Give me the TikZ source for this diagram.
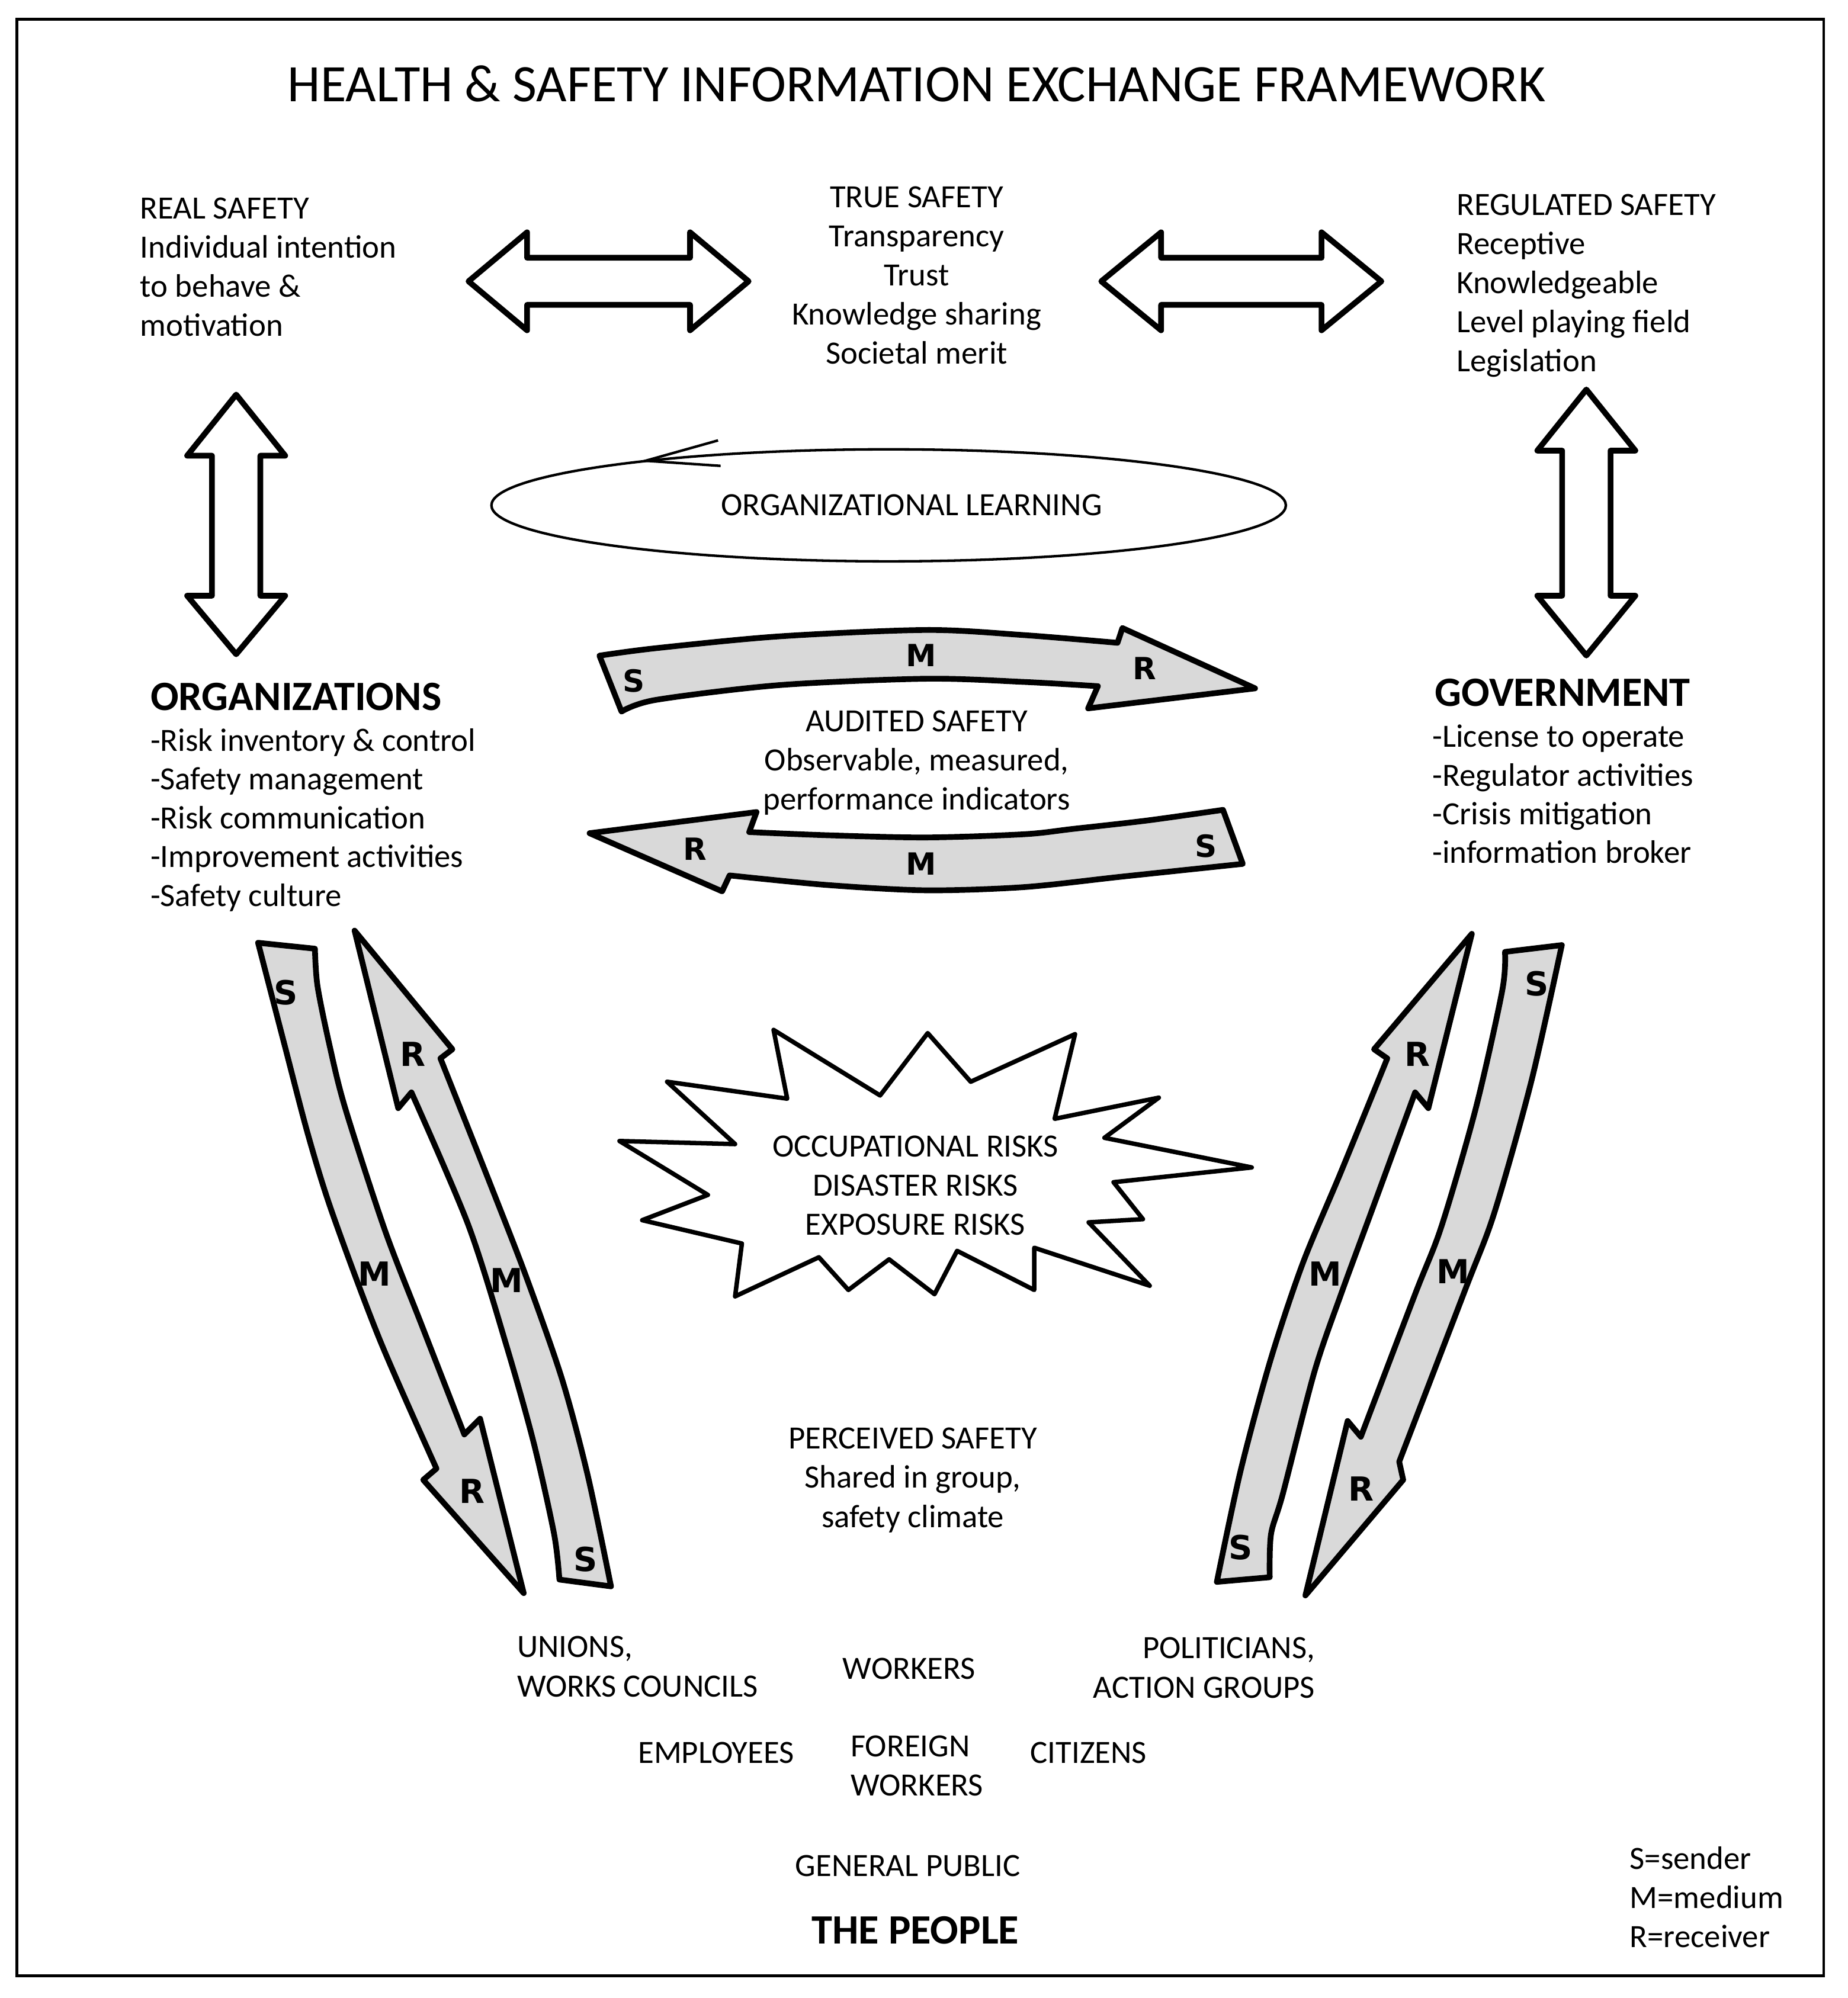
\documentclass[tikz,border=0pt]{standalone}
\usepackage{fontspec}
\setmainfont{Carlito}
\newfontfamily\labfont{DejaVu Sans}
\usetikzlibrary{shapes.geometric}
\definecolor{flowgray}{HTML}{D9D9D9}
\tikzset{
  bodytxt/.style={font=\fontsize{25.5}{30}\selectfont, inner sep=0pt},
  headtxt/.style={font=\fontsize{32.8}{36}\selectfont\bfseries, inner sep=0pt},
  titletxt/.style={font=\fontsize{41.4}{44}\selectfont, inner sep=0pt},
  letterh/.style={font=\labfont\bfseries\fontsize{24}{24}\selectfont, inner sep=0pt},
  letterv/.style={font=\labfont\bfseries\fontsize{26}{26}\selectfont, inner sep=0pt},
  flow/.style={draw, line width=4.5pt, fill=flowgray, line join=round},
  dblarrow/.style={draw, line width=4.5pt, fill=white, line join=round},
  burst/.style={draw, line width=3.5pt, fill=white, line join=round},
}
\begin{document}
\begin{tikzpicture}[x=1pt, y=-1pt]
\useasboundingbox (0,0) rectangle (1451.5,1569.7);
\draw[line width=2.2pt] (13.1,15.1) rectangle (1432.4,1552.3);

% title
\node[titletxt, anchor=base] (title) at (720,80) {HEALTH \& SAFETY INFORMATION EXCHANGE FRAMEWORK};

% top text blocks
\foreach \t [count=\i] in {REAL SAFETY, Individual intention, to behave \&, motivation}
  \node[bodytxt, anchor=base west] (real\i) at (110,{172+(\i-1)*30.7}) {\t};
\foreach \t [count=\i] in {TRUE SAFETY, Transparency, Trust, Knowledge sharing, Societal merit}
  \node[bodytxt, anchor=base] (true\i) at (720,{163+(\i-1)*30.7}) {\t};
\foreach \t [count=\i] in {REGULATED SAFETY, Receptive, Knowledgeable, Level playing field, Legislation}
  \node[bodytxt, anchor=base west] (reg\i) at (1144,{169+(\i-1)*30.7}) {\t};

% white block arrows
\draw[dblarrow] (368,221) -- (414,182.5) -- (414,202.5) -- (542,202.5) -- (542,182.5) -- (588,221)
  -- (542,259.5) -- (542,239.5) -- (414,239.5) -- (414,259.5) -- cycle;
\draw[dblarrow] (865,221) -- (912,182.5) -- (912,202.5) -- (1038,202.5) -- (1038,182.5) -- (1085,221)
  -- (1038,259.5) -- (1038,239.5) -- (912,239.5) -- (912,259.5) -- cycle;
\draw[dblarrow] (185.5,310) -- (224,358) -- (204.5,358) -- (204.5,468) -- (224,468) -- (185.5,514)
  -- (147,468) -- (166.5,468) -- (166.5,358) -- (147,358) -- cycle;
\draw[dblarrow] (1246,306) -- (1284.5,354) -- (1265,354) -- (1265,468) -- (1284.5,468) -- (1246,515)
  -- (1207.5,468) -- (1227,468) -- (1227,354) -- (1207.5,354) -- cycle;

% organizational learning loop
\node[draw, ellipse, line width=2pt, minimum width=624pt, minimum height=88pt, inner sep=0pt] (loop) at (698,397) {};
\draw[line width=2pt] (564,346) -- (507,362) -- (566,366);
\node[bodytxt, anchor=base] (learn) at (716,405) {ORGANIZATIONAL LEARNING};

% organizations / government
\node[headtxt, anchor=base west] (org) at (118,558) {ORGANIZATIONS};
\foreach \t [count=\i] in {-Risk inventory \& control, -Safety management, -Risk communication, -Improvement activities, -Safety culture}
  \node[bodytxt, anchor=base west] (org\i) at (118,{590+(\i-1)*30.5}) {\t};
\node[headtxt, anchor=base west] (gov) at (1127,555) {GOVERNMENT};
\foreach \t [count=\i] in {-License to operate, -Regulator activities, -Crisis mitigation, -information broker}
  \node[bodytxt, anchor=base west] (gov\i) at (1125,{587+(\i-1)*30.4}) {\t};

% audited safety
\foreach \t [count=\i] in {AUDITED SAFETY, {Observable, measured,}, performance indicators}
  \node[bodytxt, anchor=base] (aud\i) at (720,{575+(\i-1)*30.5}) {\t};

\begin{scope}[scale=1.008]
% horizontal flows
\draw[flow] plot[smooth] coordinates {(467.1,511)(511,505.2)(607,496)(722,491)(798,495)(870.8,501)}
  -- (874.6,489.5) -- (978,536.5) -- (847.9,552.1) -- (855.5,534.8)
  -- plot[smooth] coordinates {(855.5,534.8)(798,531.5)(721.6,529)(607,534)(511,545.5)(484.3,554.6)} -- cycle;
\draw[flow] (459.4,649.4) -- (589.5,632.9) -- (583.8,648.5)
  -- plot[smooth] coordinates {(583.8,648.5)(645,651)(721.6,652.7)(798,650.2)(836.4,646)(893.8,639.5)(953,631.2)}
  -- plot[smooth] coordinates {(968.4,673.3)(874.6,683.2)(798,691.4)(721.6,693.9)(645,689.8)(568.5,682.3)}
  -- (562.7,694.7) -- cycle;
% left flows
\draw[flow] (201.1,734.8) -- (245.4,739.4)
  -- plot[smooth] coordinates {(245.4,739.4)(247.4,768.4)(256.7,814.3)(269,863.7)(300,959)(328.8,1033.3)(361.8,1118)}
  -- (374.1,1105.7) -- (408.1,1241.7) -- (329.8,1153.4) -- (340.1,1144.6)
  -- plot[smooth] coordinates {(340.1,1144.6)(295.8,1043.9)(258.8,945)(240.2,885)(221.7,814.3)(201.1,734.8)} -- cycle;
\draw[flow] (276.3,725.3) -- (352.5,817.8) -- (343.2,824.9)
  -- plot[smooth] coordinates {(343.2,824.9)(382.4,923.8)(410,995)(438,1075)(458,1150)(476.1,1236.4)}
  -- (435.9,1231.1)
  -- plot[smooth] coordinates {(435.9,1231.1)(431.8,1195.8)(416,1125)(395,1050)(365,955)(320.6,851.4)}
  -- (310.3,863.7) -- cycle;
% right flows
\draw[flow] (1146.9,727.8) -- (1113,863.7) -- (1102.7,851.4)
  -- plot[smooth] coordinates {(1102.7,851.4)(1069.7,941.5)(1045,1008.6)(1024.4,1068.6)(999.7,1164)(990.4,1195.8)(989.4,1229.3)}
  -- (948.2,1232.9)
  -- plot[smooth] coordinates {(948.2,1232.9)(966.7,1146.3)(990,1060)(1015,985)(1045,913.2)(1081,824.9)}
  -- (1070.7,817.8) -- cycle;
\draw[flow] (1172.7,741.9) -- (1217,736.6)
  -- plot[smooth] coordinates {(1217,736.6)(1193.3,842.6)(1164.5,945)(1141.8,1005)(1090.3,1139.2)}
  -- (1093.4,1153.4) -- (1017.2,1243.5) -- (1050.1,1107.5) -- (1060.4,1119.8)
  -- plot[smooth] coordinates {(1060.4,1119.8)(1102.7,1008.6)(1123.3,955.6)(1150,863.7)(1170.6,771.9)(1172.7,741.9)} -- cycle;

% flow letters
\node[letterh] (a1s) at (493.9,530.7) {S};
\node[letterh] (a1m) at (717.7,510.9) {M};
\node[letterh] (a1r) at (891.9,520.8) {R};
\node[letterh] (a2r) at (541.7,661.7) {R};
\node[letterh] (a2m) at (717.7,673.3) {M};
\node[letterh] (a2s) at (939.7,659.3) {S};
\node[letterv] (l1s) at (222.7,773.7) {S};
\node[letterv] (l1m) at (291.7,992.7) {M};
\node[letterv] (l1r) at (368,1162.2) {R};
\node[letterv] (l2r) at (321.6,821.4) {R};
\node[letterv] (l2m) at (394.7,998) {M};
\node[letterv] (l2s) at (456.5,1215.2) {S};
\node[letterv] (r1r) at (1104.7,821.4) {R};
\node[letterv] (r1m) at (1032.6,992.7) {M};
\node[letterv] (r1s) at (966.7,1206.3) {S};
\node[letterv] (r2s) at (1197.4,766.6) {S};
\node[letterv] (r2m) at (1132.5,990.9) {M};
\node[letterv] (r2r) at (1060.4,1160.4) {R};

% risk burst
\draw[burst] (602.8,802.7) -- (685.8,853.8) -- (722.9,805.2) -- (756.4,843.1) -- (837.7,806) -- (821.8,872)
  -- (903,855.5) -- (860.6,886.8) -- (975.4,909.9) -- (867.7,921.4) -- (890.6,950.2) -- (848.3,952.7)
  -- (895.9,1002.1) -- (805.9,972.5) -- (805.9,1005.4) -- (745.8,974.9) -- (728.2,1008.7) -- (692.8,981.5)
  -- (661.1,1005.4) -- (638.1,979.9) -- (572.8,1010.4) -- (578.1,969.2) -- (500.4,951) -- (551.6,931.3)
  -- (482.7,889.3) -- (572.8,891.7) -- (519.8,843.1) -- (613.4,856.3) -- cycle;
\end{scope}

\foreach \t [count=\i] in {OCCUPATIONAL RISKS, DISASTER RISKS, EXPOSURE RISKS}
  \node[bodytxt, anchor=base] (risk\i) at (719,{909+(\i-1)*30.5}) {\t};

% perceived safety
\foreach \t [count=\i] in {PERCEIVED SAFETY, {Shared in group,}, safety climate}
  \node[bodytxt, anchor=base] (perc\i) at (717,{1138+(\i-1)*31}) {\t};

% the people
\node[bodytxt, anchor=base west] (unions) at (406,1302) {UNIONS,};
\node[bodytxt, anchor=base west] (councils) at (406,1333) {WORKS COUNCILS};
\node[bodytxt, anchor=base] (workers) at (714,1319) {WORKERS};
\node[bodytxt, anchor=base east] (politicians) at (1033,1303) {POLITICIANS,};
\node[bodytxt, anchor=base east] (action) at (1033,1334) {ACTION GROUPS};
\node[bodytxt, anchor=base] (employees) at (562.5,1385) {EMPLOYEES};
\node[bodytxt, anchor=base west] (foreign) at (668,1380) {FOREIGN};
\node[bodytxt, anchor=base west] (fworkers) at (668,1411) {WORKERS};
\node[bodytxt, anchor=base] (citizens) at (855,1385) {CITIZENS};
\node[bodytxt, anchor=base] (public) at (713,1474) {GENERAL PUBLIC};
\node[headtxt, anchor=base] (people) at (719,1527) {THE PEOPLE};

% legend
\foreach \t [count=\i] in {S=sender, M=medium, R=receiver}
  \node[bodytxt, anchor=base west] (leg\i) at (1280,{1468.5+(\i-1)*30.6}) {\t};
\end{tikzpicture}
\end{document}
